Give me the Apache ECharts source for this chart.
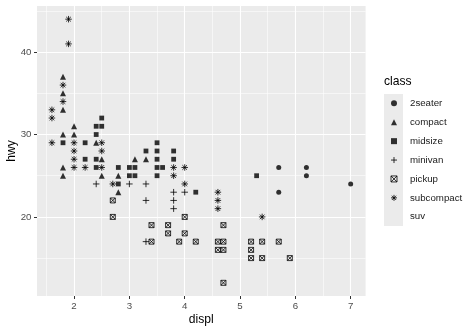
<!DOCTYPE html>
<html>
<head>
<meta charset="utf-8">
<script src="https://cdn.jsdelivr.net/npm/echarts@6/dist/echarts.min.js"></script>
<style>html,body{margin:0;padding:0;background:#fff}#c{width:474px;height:331px}</style>
</head>
<body>
<div id="c"></div>
<script>
// ---- data ----
const classes = ['2seater', 'compact', 'midsize', 'minivan', 'pickup', 'subcompact', 'suv'];

const twoseaterDispl = [5.7, 5.7, 6.2, 6.2, 7.0];
const twoseaterHwy   = [26, 23, 26, 25, 24];

const compactDispl = [1.8, 1.8, 1.8, 1.8, 1.8, 1.8, 2.0, 2.0, 2.4, 2.5, 2.5, 2.8, 2.8, 3.1, 3.3];
const compactHwy   = [37, 35, 33, 30, 26, 25, 31, 30, 29, 27, 25, 25, 23, 27, 27];

const midsizeDispl = [1.8, 2.2, 2.2, 2.4, 2.4, 2.4, 2.4, 2.5, 2.5, 2.8, 2.8, 3.0, 3.0, 3.1, 3.1, 3.3,
                      3.5, 3.5, 3.5, 3.5, 3.5, 3.6, 3.8, 3.8, 4.2, 5.3];
const midsizeHwy   = [29, 29, 27, 31, 30, 27, 26, 32, 31, 26, 24, 26, 25, 26, 25, 28,
                      29, 28, 27, 26, 25, 26, 28, 27, 23, 25];

const minivanDispl = [2.4, 3.0, 3.3, 3.3, 3.3, 3.8, 3.8, 3.8, 4.0];
const minivanHwy   = [24, 24, 24, 22, 17, 23, 22, 21, 23];

const pickupDispl = [2.7, 2.7, 3.4, 3.4, 3.7, 3.7, 3.9, 4.0, 4.0, 4.2, 4.6, 4.6, 4.7, 4.7, 4.7, 4.7,
                     5.2, 5.2, 5.2, 5.4, 5.4, 5.7, 5.9];
const pickupHwy   = [22, 20, 19, 17, 19, 18, 17, 20, 18, 17, 17, 16, 19, 17, 16, 12,
                     17, 16, 15, 17, 15, 17, 15];

const subcompactDispl = [1.6, 1.6, 1.6, 1.8, 1.8, 1.9, 1.9, 2.0, 2.0, 2.0, 2.0, 2.2, 2.5, 2.5, 2.5,
                         2.7, 3.8, 3.8, 4.0, 4.0, 4.6, 4.6, 4.6, 5.4];
const subcompactHwy   = [33, 32, 29, 36, 34, 44, 41, 29, 28, 27, 26, 26, 29, 28, 26,
                         24, 26, 25, 26, 24, 23, 22, 21, 20];

const suvDispl = [];
const suvHwy   = [];

const xTicks = [2, 3, 4, 5, 6, 7];
const xMinor = [1.5, 2.5, 3.5, 4.5, 5.5, 6.5];
const yTicks = [20, 30, 40];
const yMinor = [15, 25, 35, 45];
const xRange = [1.33, 7.27];
const yRange = [10.4, 45.6];

// ---- chart ----
const pairs = (xs, ys) => xs.map((x, i) => [x, ys[i]]);
const FONT = 'Liberation Sans, Arial, sans-serif';

const stroked = { color: 'transparent', borderColor: '#000', borderWidth: 1 };
const filled = { color: '#000', borderWidth: 0 };

const shapeDefs = {
  '2seater':   { symbol: 'circle', size: 5, style: filled },
  'compact':   { symbol: 'triangle', size: 6, style: filled },
  'midsize':   { symbol: 'rect', size: 4.8, style: filled },
  'minivan':   { symbol: 'path://M5,0L5,10M0,5L10,5', size: 6.5, style: stroked },
  'pickup':    { symbol: 'path://M0,0L10,0L10,10L0,10ZM0,0L10,10M10,0L0,10', size: 5, style: stroked },
  'subcompact':{ symbol: 'path://M5,0L5,10M0,5L10,5M1.46,1.46L8.54,8.54M8.54,1.46L1.46,8.54', size: 6.5, style: stroked },
  'suv':       { symbol: 'none', size: 0, style: filled }
};
const classData = {
  '2seater': pairs(twoseaterDispl, twoseaterHwy),
  'compact': pairs(compactDispl, compactHwy),
  'midsize': pairs(midsizeDispl, midsizeHwy),
  'minivan': pairs(minivanDispl, minivanHwy),
  'pickup': pairs(pickupDispl, pickupHwy),
  'subcompact': pairs(subcompactDispl, subcompactHwy),
  'suv': pairs(suvDispl, suvHwy)
};

const gridLineSeries = {
  type: 'scatter', name: '__grid', data: [], silent: true, z: 1,
  markLine: {
    silent: true, z: 1, symbol: ['none', 'none'], label: { show: false }, animation: false,
    emphasis: { disabled: true },
    data: [
      ...xMinor.map(v => ({ xAxis: v, lineStyle: { color: '#fff', width: 0.55, type: 'solid' } })),
      ...yMinor.map(v => ({ yAxis: v, lineStyle: { color: '#fff', width: 0.55, type: 'solid' } })),
      ...xTicks.map(v => ({ xAxis: v, lineStyle: { color: '#fff', width: 1.1, type: 'solid' } })),
      ...yTicks.map(v => ({ yAxis: v, lineStyle: { color: '#fff', width: 1.1, type: 'solid' } }))
    ]
  }
};

const series = [gridLineSeries].concat(classes.map(c => ({
  type: 'scatter', name: c, data: classData[c], z: 10,
  symbol: shapeDefs[c].symbol, symbolSize: shapeDefs[c].size,
  itemStyle: Object.assign({}, shapeDefs[c].style),
  emphasis: { disabled: true }, animation: false
})));

const legendData = classes.map(c => {
  const d = shapeDefs[c];
  const item = { name: c };
  if (c === 'suv') { item.itemStyle = { opacity: 0 }; }
  else if (d.style === stroked) { item.itemStyle = { color: 'transparent', borderColor: '#000', borderWidth: 1 }; }
  else { item.itemStyle = { color: '#000', borderWidth: 0 }; }
  return item;
});

const chart = echarts.init(document.getElementById('c'), null, { renderer: 'canvas' });
chart.setOption({
  animation: false,
  backgroundColor: '#fff',
  textStyle: { fontFamily: FONT },
  title: {
    text: 'class', left: 384, top: 76, padding: 0,
    textStyle: { fontSize: 12.1, fontWeight: 'normal', color: '#000', fontFamily: FONT }
  },
  graphic: [{
    type: 'rect', left: 384, top: 94, z: -1, silent: true,
    shape: { width: 19, height: 132 }, style: { fill: '#EBEBEB' }
  }],
  legend: {
    orient: 'vertical', left: 390.5, top: 93.9, padding: 0, itemGap: 0,
    itemWidth: 6, itemHeight: 6, selectedMode: false,
    data: legendData,
    textStyle: { fontSize: 9.7, color: '#1A1A1A', fontFamily: FONT, lineHeight: 18.9, padding: [0, 0, 0, 8] }
  },
  grid: {
    left: 37, right: 108.4, top: 6, bottom: 35,
    show: true, backgroundColor: '#EBEBEB', borderWidth: 0,
    containLabel: false, outerBoundsMode: 'none'
  },
  xAxis: {
    type: 'value', min: xRange[0], max: xRange[1],
    name: 'displ', nameLocation: 'middle', nameGap: 18, nameMoveOverlap: false,
    nameTextStyle: { fontSize: 12.1, color: '#000', fontFamily: FONT },
    axisLine: { show: false },
    axisTick: { show: true, customValues: xTicks, length: 3, lineStyle: { color: '#333333', width: 1 } },
    axisLabel: { customValues: xTicks, margin: 5.5, fontSize: 9.7, color: '#4D4D4D', fontFamily: FONT },
    splitLine: { show: false }
  },
  yAxis: {
    type: 'value', min: yRange[0], max: yRange[1],
    name: 'hwy', nameLocation: 'middle', nameGap: 19, nameRotate: 90, nameMoveOverlap: false,
    nameTextStyle: { fontSize: 12.1, color: '#000', fontFamily: FONT },
    axisLine: { show: false },
    axisTick: { show: true, customValues: yTicks, length: 3, lineStyle: { color: '#333333', width: 1 } },
    axisLabel: { customValues: yTicks, margin: 5.5, fontSize: 9.7, color: '#4D4D4D', fontFamily: FONT },
    splitLine: { show: false }
  },
  series: series
});
</script>
</body>
</html>
